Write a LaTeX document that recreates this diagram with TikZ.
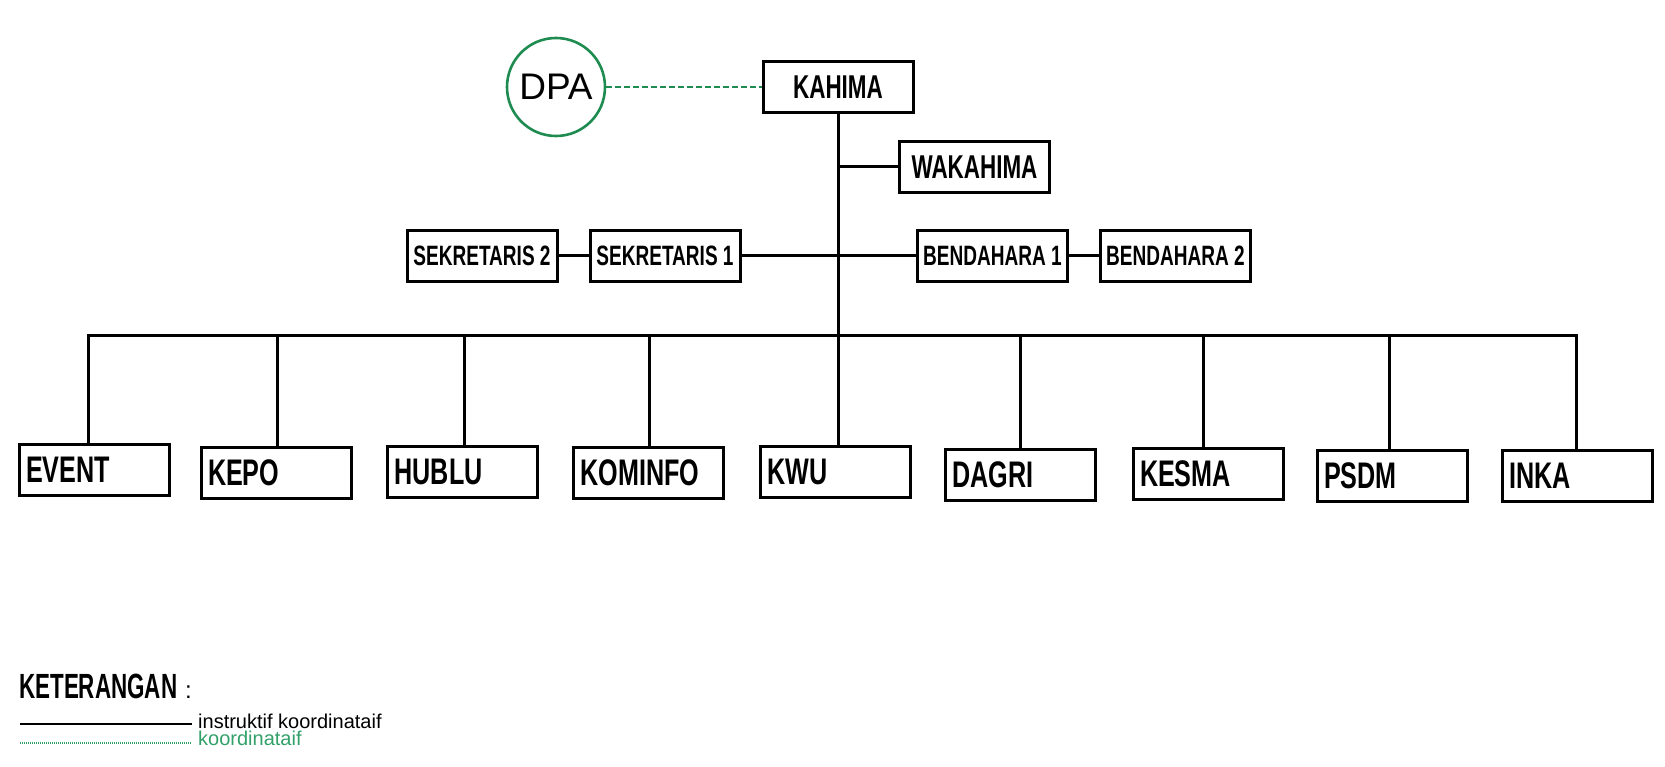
\documentclass[tikz,border=0pt]{standalone}
\usepackage{fontspec}
\setmainfont{Liberation Sans}
\newfontfamily\condfont[FakeStretch=0.68]{Liberation Sans}
\newfontfamily\legfont[FakeStretch=0.64]{Liberation Sans}
\definecolor{dpagreen}{RGB}{30,140,80}
\definecolor{leggreen}{RGB}{50,160,105}
\begin{document}
\begin{tikzpicture}[x=1pt,y=-1pt,
  conn/.style={line width=3pt, black},
  box/.style={draw, line width=3pt, rectangle, inner sep=0pt, minimum height=51pt, minimum width=150pt},
  topbox/.style={box, font=\condfont\bfseries\fontsize{33}{33}\selectfont},
  midbox/.style={box, font=\condfont\bfseries\fontsize{28}{28}\selectfont},
  unitbox/.style={box, inner xsep=7pt, text width=136pt, align=left, font=\condfont\bfseries\fontsize{37}{37}\selectfont},
  dpanode/.style={draw=dpagreen, line width=2.6pt, circle, minimum size=98pt, inner sep=0pt, font=\fontsize{37}{37}\selectfont},
  dpaline/.style={draw=dpagreen, line width=2.2pt, dash pattern=on 6pt off 3pt}
]
\useasboundingbox (0,0) rectangle (1665,767);

% top nodes
\node[dpanode] (dpa) at (556,87) {DPA};
\node[topbox] (kahima) at (838,87) {KAHIMA};
\node[topbox] (waka) at (974.5,167) {WAKAHIMA};
\node[midbox] (sek2) at (482,256) {SEKRETARIS 2};
\node[midbox] (sek1) at (665,256) {SEKRETARIS 1};
\node[midbox] (bend1) at (992.5,256) {BENDAHARA 1};
\node[midbox] (bend2) at (1175.5,256) {BENDAHARA 2};

% units
\node[unitbox] (event) at (94,470) {EVENT};
\node[unitbox] (kepo) at (276,472.5) {KEPO};
\node[unitbox] (hublu) at (462.5,471.5) {HUBLU};
\node[unitbox] (kominfo) at (648.5,473) {KOMINFO};
\node[unitbox] (kwu) at (835.5,472) {KWU};
\node[unitbox] (dagri) at (1020.5,474.5) {DAGRI};
\node[unitbox] (kesma) at (1208,474) {KESMA};
\node[unitbox] (psdm) at (1392,476) {PSDM};
\node[unitbox] (inka) at (1577,476) {INKA};

% bus coordinates
\coordinate (b1) at (88,335.5);
\coordinate (b2) at (277,335.5);
\coordinate (b3) at (464,335.5);
\coordinate (b4) at (649,335.5);
\coordinate (b5) at (838,335.5);
\coordinate (b6) at (1020,335.5);
\coordinate (b7) at (1203,335.5);
\coordinate (b8) at (1389,335.5);
\coordinate (b9) at (1576,335.5);

% connectors
\draw[dpaline] (dpa.east) -- (kahima.west);
\draw[conn] (kahima.south) -- (b5);
\draw[conn] (kahima.south |- waka.west) -- (waka.west);
\draw[conn] (sek1.east) -- (bend1.west);
\draw[conn] (sek2.east) -- (sek1.west);
\draw[conn] (bend1.east) -- (bend2.west);
\draw[conn, line cap=rect] (b1) -- (b9);
\draw[conn] (b1) -- (b1 |- event.north);
\draw[conn] (b2) -- (b2 |- kepo.north);
\draw[conn] (b3) -- (b3 |- hublu.north);
\draw[conn] (b4) -- (b4 |- kominfo.north);
\draw[conn] (b5) -- (b5 |- kwu.north);
\draw[conn] (b6) -- (b6 |- dagri.north);
\draw[conn] (b7) -- (b7 |- kesma.north);
\draw[conn] (b8) -- (b8 |- psdm.north);
\draw[conn] (b9) -- (b9 |- inka.north);

% legend
\node[anchor=west, inner sep=0pt, font=\legfont\bfseries\fontsize{35}{35}\selectfont] (ket) at (19,686.5) {KETERANGAN\hspace{8pt}{\normalfont\fontsize{24}{24}\selectfont :}};
\coordinate (l1a) at (20,724);
\coordinate (l1b) at (192,724);
\coordinate (l2a) at (20,743);
\coordinate (l2b) at (192,743);
\draw[line width=1.6pt] (l1a) -- (l1b);
\draw[leggreen, line width=1.2pt, dash pattern=on 1pt off 1pt] (l2a) -- (l2b);
\node[anchor=base west, inner sep=0pt, font=\fontsize{20}{20}\selectfont] (instr) at (198,728.5) {instruktif koordinataif};
\node[anchor=base west, inner sep=0pt, text=leggreen, font=\fontsize{20}{20}\selectfont] (koord) at (198,745) {koordinataif};
\end{tikzpicture}
\end{document}
